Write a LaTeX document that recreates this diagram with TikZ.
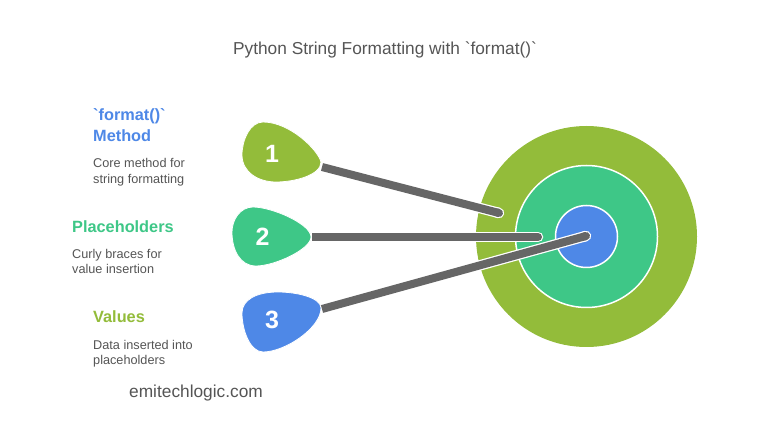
\documentclass[tikz,border=0pt]{standalone}
\usetikzlibrary{calc}
\usepackage{fontspec}
\setmainfont{Liberation Sans}[Ligatures=TeXOff]
\definecolor{cgreen}{HTML}{93BC3A}
\definecolor{cteal}{HTML}{3EC787}
\definecolor{cblue}{HTML}{4E88E7}
\definecolor{cgray}{HTML}{666666}
\definecolor{ctext}{HTML}{555555}
\tikzset{
  ring/.style={circle,inner sep=0pt,draw=white,line width=1.5pt},
  head/.style={anchor=base west,font=\bfseries\fontsize{16.3}{20}\selectfont,inner sep=0pt},
  desc/.style={anchor=base west,font=\fontsize{12.7}{16}\selectfont,text=ctext,inner sep=0pt,align=left},
  num/.style={font=\bfseries\fontsize{25}{28}\selectfont,text=white,inner sep=0pt},
  blob/.style={draw=white,line width=0.8pt},
  halo/.style={draw=white,line width=10.5pt,line cap=round},
  bar/.style={draw=cgray,line width=8pt,line cap=round},
  halobutt/.style={draw=white,line width=10.5pt},
  barbutt/.style={draw=cgray,line width=8pt}
}
\begin{document}
\begin{tikzpicture}[x=1pt,y=-1pt]
\useasboundingbox (0,0) rectangle (768,435);
\fill[white] (0,0) rectangle (768,435);
\node[ring,fill=cgreen,draw=none,minimum size=221pt] (outer) at (586.5,236.5) {};
\node[ring,fill=cteal,minimum size=142pt] (middle) at (586.5,236.5) {};
\node[ring,fill=cblue,minimum size=62pt] (inner) at (586.5,236.5) {};
% blobs
\draw[blob,fill=cgreen] (321,162) .. controls (318,150) and (290,122) .. (263,122)
  .. controls (250,122) and (242,140) .. (242,155)
  .. controls (242,172) and (258,182) .. (276,182)
  .. controls (295,182) and (321,175) .. (321,162) -- cycle;
\draw[blob,fill=cteal] (311,237) .. controls (311,224) and (272,207) .. (253,207)
  .. controls (240,207) and (232,220) .. (232,232)
  .. controls (232,250) and (240,266) .. (256,266)
  .. controls (275,266) and (311,249) .. (311,237) -- cycle;
\draw[blob,fill=cblue] (321,308) .. controls (321,298) and (298,292) .. (278,292)
  .. controls (256,292) and (242,300) .. (242,313)
  .. controls (242,330) and (250,352) .. (263,352)
  .. controls (285,352) and (321,328) .. (321,308) -- cycle;
\node[num] (n1) at (272,154) {1};
\node[num] (n2) at (262.5,237) {2};
\node[num] (n3) at (272,320) {3};
% connector ends
\coordinate (s1) at (322,167);
\coordinate (e1) at (499,213);
\coordinate (s2) at (312,237);
\coordinate (e2) at (538,237);
\coordinate (s3) at (322,309);
\coordinate (e3) at (586,236);
\draw[halobutt] (s1) -- (e1);
\draw[halo] (e1) -- ($(e1)+(-2,-0.5)$);
\draw[barbutt] (s1) -- (e1);
\draw[bar] (e1) -- ($(e1)+(-2,-0.5)$);
\draw[halobutt] (s2) -- (e2);
\draw[halo] (e2) -- ($(e2)+(-2,0)$);
\draw[barbutt] (s2) -- (e2);
\draw[bar] (e2) -- ($(e2)+(-2,0)$);
\draw[halobutt] (s3) -- (e3);
\draw[halo] (e3) -- ($(e3)+(-2,0.55)$);
\draw[barbutt] (s3) -- (e3);
\draw[bar] (e3) -- ($(e3)+(-2,0.55)$);
% text
\node[font=\fontsize{17.3}{20}\selectfont,text=ctext,inner sep=0pt] (title) at (385,50) {Python String Formatting with `format()`};
\node[head,text=cblue] (h1a) at (93,121) {`format()`};
\node[head,text=cblue] (h1b) at (93,142) {Method};
\node[desc] (d1a) at (93,168) {Core method for};
\node[desc] (d1b) at (93,183.5) {string formatting};
\node[head,text=cteal] (h2) at (72,232.5) {Placeholders};
\node[desc] (d2a) at (72,259) {Curly braces for};
\node[desc] (d2b) at (72,274) {value insertion};
\node[head,text=cgreen] (h3) at (93,323) {Values};
\node[desc] (d3a) at (93,350) {Data inserted into};
\node[desc] (d3b) at (93,365) {placeholders};
\node[anchor=base west,inner sep=0pt,font=\fontsize{17.3}{20}\selectfont,text=ctext] (site) at (129,397) {emitechlogic.com};
\end{tikzpicture}
\end{document}
